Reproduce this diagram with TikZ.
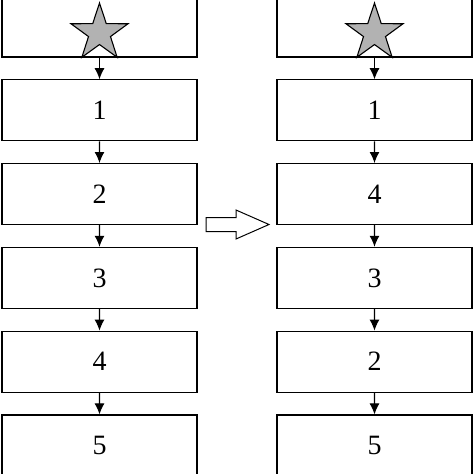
\documentclass[tikz,border=0pt]{standalone}
\usepackage{latexsym, amsmath, amsfonts}
\usepackage{fontspec}
\setmainfont{Liberation Serif}
\usepackage{tikz}
\usetikzlibrary{arrows, arrows.meta, shapes.geometric}

\begin{document}
\begin{tikzpicture}[x=1pt, y=1pt,
    box/.style={rectangle, draw=black, fill=white, line width=1.2pt, minimum width=195pt, minimum height=61pt, inner sep=0pt, font=\fontsize{28}{32}\selectfont},
    starmark/.style={star, star points=5, star point ratio=2.6, draw=black, fill=black!30, line width=1.1pt, minimum size=60pt, inner sep=0pt},
    level distance=83.8pt,
    edge from parent/.style={draw, -{Latex[length=11pt, width=10pt]}, line width=1.1pt},
    every child node/.style={box}]
        \useasboundingbox (0,0) rectangle (474,-474);
        % before
        \node[box] (l0) at (99.5,-26.5) {}
          child{ node (l1) {1}
            child{ node (l2) {2}
              child{ node (l3) {3}
                child{ node (l4) {4}
                  child{ node (l5) {5} }
                }
              }
            }
          };
        % after
        \node[box] (r0) at (374.5,-26.5) {}
          child{ node (r1) {1}
            child{ node (r2) {4}
              child{ node (r3) {3}
                child{ node (r4) {2}
                  child{ node (r5) {5} }
                }
              }
            }
          };
        \node[starmark, yshift=-6.5pt] (ls) at (l0) {};
        \node[starmark, yshift=-6.5pt] (rs) at (r0) {};
        % hollow arrow
        \draw[line width=1pt, line join=miter] (206,-217.5) -- (236,-217.5) -- (236,-210) -- (269,-224.5)
          -- (236,-239) -- (236,-231.5) -- (206,-231.5) -- cycle;
      \end{tikzpicture}
\end{document}
